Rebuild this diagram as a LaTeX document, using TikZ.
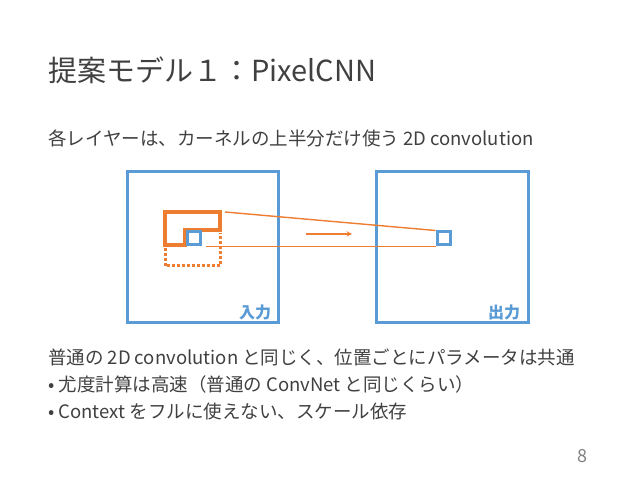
\documentclass[tikz,border=0pt]{standalone}
\usepackage{fontspec}
\setmainfont{Noto Sans CJK JP}
\definecolor{bl}{HTML}{5B9BD5}
\definecolor{org}{HTML}{ED7D31}
\definecolor{tx}{HTML}{404040}
\begin{document}
\begin{tikzpicture}[x=1pt,y=-1pt,
  bigbox/.style={draw=bl,line width=3pt},
  smallbox/.style={draw=bl,line width=3pt},
  ker/.style={draw=org,line width=3.2pt},
  conn/.style={draw=org,line width=1.4pt},
  txt/.style={anchor=west,text=tx,inner sep=0pt,font=\fontsize{18.5}{20}\selectfont},
  lab/.style={text=bl,inner sep=0pt,font=\fontsize{16}{18}\selectfont\bfseries}]
\useasboundingbox (0,0) rectangle (638,478);
\node[txt,font=\fontsize{29}{32}\selectfont] (title) at (48,70) {提案モデル１：PixelCNN};
\node[txt] (l1) at (48,138) {各レイヤーは、カーネルの上半分だけ使う 2D convolution};
\node[txt] (l2) at (48,357) {普通の 2D convolution と同じく、位置ごとにパラメータは共通};
\node[txt] (l3) at (48,384) {• 尤度計算は高速（普通の ConvNet と同じくらい）};
\node[txt] (l4) at (48,411) {• Context をフルに使えない、スケール依存};
\node[text=gray,inner sep=0pt,font=\fontsize{18}{20}\selectfont] (pg) at (582,456) {8};
\draw[bigbox] (127,172) rectangle (278,323);
\draw[bigbox] (376,172) rectangle (528,323);
\node[lab] (in) at (255,312) {入力};
\node[lab] (out) at (504,312) {出力};
\draw[ker] (165,212) -- (220,212) -- (220,230) -- (185,230) -- (185,245) -- (165,245) -- cycle;
\draw[org,line width=3pt,dotted] (165,248) -- (165,266) -- (220,266) -- (220,233);
\node[smallbox,minimum size=13pt,inner sep=0pt] (p) at (194,238.5) {};
\node[smallbox,minimum size=13pt,inner sep=0pt] (q) at (443.5,238.5) {};
\coordinate (kt) at (225,212);
\draw[conn] (kt) -- (q.north west);
\draw[conn] (p.south east) ++(4,0) -- (q.south west);
\coordinate (a1) at (306,234);
\coordinate (a2) at (352,234);
\draw[org,line width=1.4pt,-stealth] (a1) -- (a2);
\end{tikzpicture}
\end{document}
